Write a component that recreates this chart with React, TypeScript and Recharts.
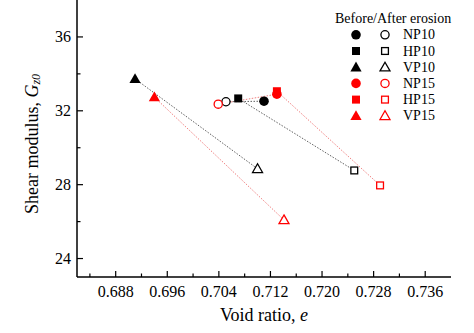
import React from 'react';
import { ScatterChart, Scatter, XAxis, YAxis, Legend } from 'recharts';

const seriesNames = ['NP10', 'HP10', 'VP10', 'NP15', 'HP15', 'VP15'];
const seriesShapes = ['circle', 'square', 'triangle', 'circle', 'square', 'triangle'];
const seriesColors = ['#000000', '#000000', '#000000', '#ff0000', '#ff0000', '#ff0000'];
const lineColors = ['#606060', '#606060', '#606060', '#f08080', '#f08080', '#f08080'];

const beforeE = [0.711, 0.707, 0.691, 0.713, 0.713, 0.694];
const beforeG = [32.52, 32.67, 33.73, 32.9, 33.06, 32.74];
const afterE = [0.7051, 0.725, 0.71, 0.7039, 0.729, 0.7141];
const afterG = [32.49, 28.77, 28.86, 32.36, 27.96, 26.09];

const xTicks = [0.684, 0.688, 0.692, 0.696, 0.7, 0.704, 0.708, 0.712, 0.716, 0.72, 0.724, 0.728, 0.732, 0.736];
const xMajorLabels = ['0.688', '0.696', '0.704', '0.712', '0.720', '0.728', '0.736'];
const yTicks = [24, 26, 28, 30, 32, 34, 36];
const yMajorLabels = ['24', '28', '32', '36'];

const FONT = "'Liberation Serif', 'Times New Roman', serif";

const fmtX = (v: number) => v.toFixed(3);
const isMajorX = (v: number) => xMajorLabels.includes(fmtX(v));
const isMajorY = (v: number) => yMajorLabels.includes(String(v));

function Marker({ cx, cy, shape, filled, color }: any) {
  if (shape === 'circle') {
    return filled ? (
      <circle cx={cx} cy={cy} r={4.8} fill={color} />
    ) : (
      <circle cx={cx} cy={cy} r={4.1} fill="#fff" stroke={color} strokeWidth={1.3} />
    );
  }
  if (shape === 'square') {
    return filled ? (
      <rect x={cx - 4} y={cy - 4} width={8} height={8} fill={color} />
    ) : (
      <rect x={cx - 3.4} y={cy - 3.4} width={6.8} height={6.8} fill="#fff" stroke={color} strokeWidth={1.3} />
    );
  }
  const s = filled ? 5.6 : 5.0;
  const pts = `${cx},${cy - s} ${cx + s * 1.0},${cy + s * 0.75} ${cx - s * 1.0},${cy + s * 0.75}`;
  return filled ? (
    <polygon points={pts} fill={color} />
  ) : (
    <polygon points={pts} fill="#fff" stroke={color} strokeWidth={1.3} strokeLinejoin="miter" />
  );
}

const BottomTick = ({ x, y, payload }: any) => {
  const major = isMajorX(payload.value);
  return (
    <g>
      <line x1={x} y1={y} x2={x} y2={y - (major ? 6 : 3.5)} stroke="#000" strokeWidth={1.2} />
      {major && (
        <text x={x} y={y + 20} textAnchor="middle" fontSize={16} fontFamily={FONT} fill="#000">
          {fmtX(payload.value)}
        </text>
      )}
    </g>
  );
};

const TopTick = ({ x, y, payload }: any) => {
  const major = isMajorX(payload.value);
  return <line x1={x} y1={y} x2={x} y2={y + (major ? 6 : 3.5)} stroke="#000" strokeWidth={1.2} />;
};

const LeftTick = ({ x, y, payload }: any) => {
  const major = isMajorY(payload.value);
  return (
    <g>
      <line x1={x} y1={y} x2={x + (major ? 6 : 3.5)} y2={y} stroke="#000" strokeWidth={1.2} />
      {major && (
        <text x={x - 6} y={y} textAnchor="end" dominantBaseline="central" fontSize={16} fontFamily={FONT} fill="#000">
          {String(payload.value)}
        </text>
      )}
    </g>
  );
};

const RightTick = ({ x, y, payload }: any) => {
  const major = isMajorY(payload.value);
  return <line x1={x} y1={y} x2={x - (major ? 6 : 3.5)} y2={y} stroke="#000" strokeWidth={1.2} />;
};

const LegendBox = () => (
  <svg width={150} height={125} style={{ display: 'block', overflow: 'visible' }}>
    <text x={5} y={18} fontSize={14} fontFamily={FONT} fill="#000">Before/After erosion</text>
    {seriesNames.map((n, i) => {
      const cy = 29.8 + i * 16.2;
      return (
        <g key={n}>
          <Marker cx={26} cy={cy} shape={seriesShapes[i]} filled color={seriesColors[i]} />
          <Marker cx={55} cy={cy} shape={seriesShapes[i]} filled={false} color={seriesColors[i]} />
          <text x={73} y={cy} dominantBaseline="central" fontSize={14} fontFamily={FONT} fill="#000">
            {n}
          </text>
        </g>
      );
    })}
  </svg>
);

export default function App() {
  const pairs = seriesNames.map((n, i) => [
    { e: beforeE[i], g: beforeG[i], state: 'before' },
    { e: afterE[i], g: afterG[i], state: 'after' },
  ]);

  return (
    <div style={{ position: 'absolute', left: 0, top: 0, width: 474, height: 333, background: '#fff' }}>
      <ScatterChart width={474} height={333} margin={{ top: 0, right: 23, bottom: 0, left: 0 }} style={{ fontFamily: FONT }}>
        <XAxis
          dataKey="e"
          type="number"
          domain={[0.682, 0.74]}
          allowDataOverflow
          ticks={xTicks}
          interval={0}
          tick={<BottomTick />}
          tickLine={false}
          tickSize={0}
          tickMargin={0}
          height={56}
          axisLine={{ stroke: '#000', strokeWidth: 1.5 }}
          label={{
            content: () => (
              <text x={264} y={321} textAnchor="middle" fontSize={18} fontFamily={FONT} fill="#000">
                Void ratio, <tspan fontStyle="italic">e</tspan>
              </text>
            ),
          }}
        />
        <XAxis
          xAxisId="top"
          orientation="top"
          dataKey="e"
          type="number"
          domain={[0.682, 0.74]}
          allowDataOverflow
          ticks={xTicks}
          interval={0}
          tick={<TopTick />}
          tickLine={false}
          tickSize={0}
          tickMargin={0}
          height={0}
          axisLine={{ stroke: '#000', strokeWidth: 1.5 }}
        />
        <YAxis
          dataKey="g"
          type="number"
          domain={[23, 38]}
          allowDataOverflow
          ticks={yTicks}
          interval={0}
          tick={<LeftTick />}
          tickLine={false}
          tickSize={0}
          tickMargin={0}
          width={77}
          axisLine={{ stroke: '#000', strokeWidth: 1.5 }}
          label={{
            content: () => (
              <text
                x={32}
                y={144}
                transform="rotate(-90, 32, 144)"
                textAnchor="middle"
                dominantBaseline="central"
                fontSize={18}
                fontFamily={FONT}
                fill="#000"
              >
                Shear modulus, <tspan fontStyle="italic">G</tspan>
                <tspan fontStyle="italic" fontSize={12} dy={4}>z0</tspan>
              </text>
            ),
          }}
        />
        <YAxis
          yAxisId="right"
          orientation="right"
          dataKey="g"
          type="number"
          domain={[23, 38]}
          allowDataOverflow
          ticks={yTicks}
          interval={0}
          tick={<RightTick />}
          tickLine={false}
          tickSize={0}
          tickMargin={0}
          width={0}
          axisLine={{ stroke: '#000', strokeWidth: 1.5 }}
        />
        <Legend
          verticalAlign="middle"
          layout="horizontal"
          content={() => <LegendBox />}
          wrapperStyle={{ position: 'absolute', left: 330, top: 5, width: 150, height: 125, pointerEvents: 'none' }}
        />
        {pairs.map((d, i) => (
          <Scatter
            key={'l' + i}
            data={d}
            isAnimationActive={false}
            line={{ stroke: lineColors[i], strokeWidth: 1, strokeDasharray: '1.5 1.5' }}
            shape={() => <g />}
            legendType="none"
          />
        ))}
        {pairs.map((d, i) => (
          <Scatter
            key={'m' + i}
            data={d}
            isAnimationActive={false}
            legendType="none"
            shape={(p: any) => (
              <Marker
                cx={p.cx}
                cy={p.cy}
                shape={seriesShapes[i]}
                filled={p.payload.state === 'before'}
                color={seriesColors[i]}
              />
            )}
          />
        ))}
      </ScatterChart>
    </div>
  );
}
